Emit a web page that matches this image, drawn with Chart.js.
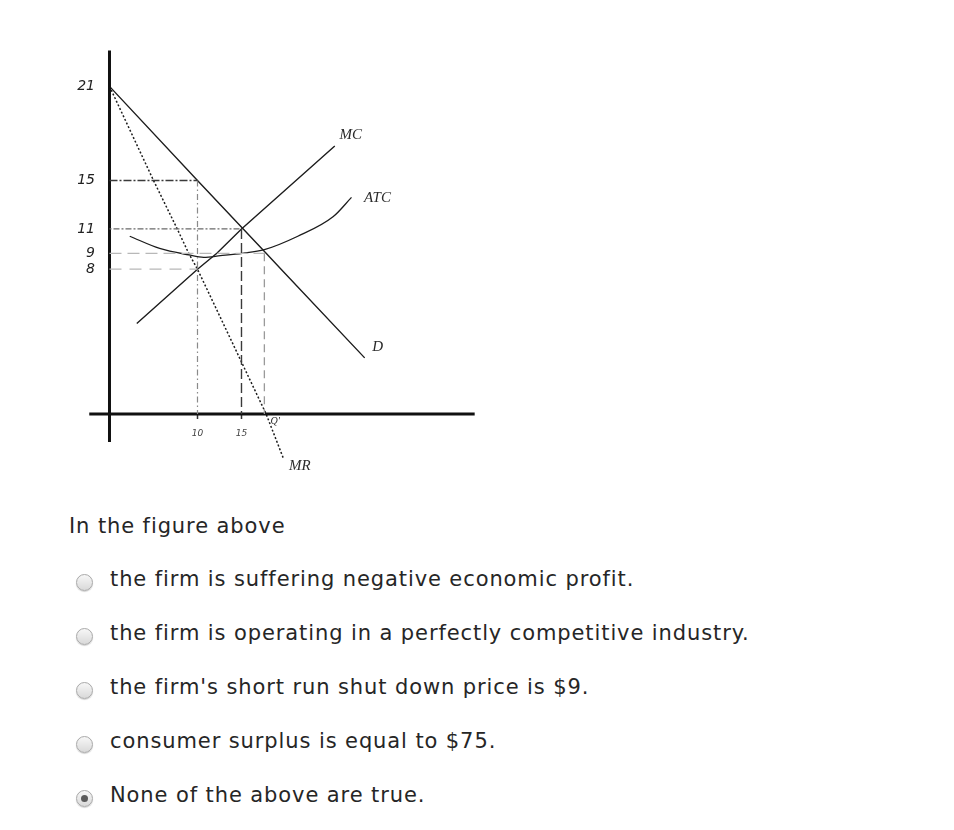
<!DOCTYPE html>
<html>
<head>
<meta charset="utf-8">
<script src="https://cdn.jsdelivr.net/npm/chart.js@4.4.0/dist/chart.umd.min.js"></script>
<style>
  body { margin: 0; background: #fff; width: 954px; height: 830px; position: relative; overflow: hidden; }
  #chart { position: absolute; left: 0; top: 0; }
  .line { position: absolute; margin: 0; font-family: "DejaVu Sans", sans-serif; font-size: 21px; letter-spacing: 0.9px; color: #262626; line-height: 24px; white-space: nowrap; }
  .radio { position: absolute; width: 15px; height: 15px; border-radius: 50%; border: 1px solid #a9a9a9;
    background: linear-gradient(#f7f7f7, #d9d9d9); box-shadow: 0 1px 1px rgba(0,0,0,0.18); }
  .radio.on::after { content: ""; position: absolute; left: 4px; top: 4px; width: 7px; height: 7px; border-radius: 50%; background: #5a5a5a; }
</style>
</head>
<body>
<canvas id="chart" width="520" height="490"></canvas>
<div id="question"></div>

<script>
// values (price on y, quantity on x)
const priceTicks = [8, 9, 11, 15, 21];
const qtyTicks = [10, 15];

const demandQ = [0, 10, 15.2, 17.8, 19.5, 29];
const demandP = [21, 15, 11, 9, 8, 3.1];

const mrQ = [0, 5, 7.7, 9, 10, 17.8, 19.8];
const mrP = [21, 15, 11, 9, 8, 0, -2.9];

const mcQ = [3.1, 10, 12.2, 15, 25.6];
const mcP = [5, 8, 9, 11, 17.2];

const atcQ = [2.3, 5.7, 9, 10.7, 12.6, 15.1, 17.6, 21.4, 25.4, 27.5];
const atcP = [10.4, 9.4, 8.9, 8.75, 8.85, 9, 9.3, 10.4, 12, 13.6];

// dashed guide lines: price level -> quantity where it stops
const guideP = [15, 11, 9, 8];
const guideQ = [10, 15, 17.6, 10];

// drawn extent of the two axes
const xAxisQ = [-2.3, 41.5];
const yAxisP = [-1.8, 23.3];

const question = "In the figure above";
const answers = [
  "the firm is suffering negative economic profit.",
  "the firm is operating in a perfectly competitive industry.",
  "the firm's short run shut down price is $9.",
  "consumer surplus is equal to $75.",
  "None of the above are true."
];
const picked = 4;

// the hand drawn price axis is not evenly spaced, so the y scale follows
// the sketch's own spacing between its labelled prices
const knotsVal = [0, 8, 9, 11, 15, 21];
const knotsPos = [0, 9.28, 10.3, 11.86, 14.97, 21];
const warp = (v) => {
  if (v <= knotsVal[0] || v >= knotsVal[knotsVal.length - 1]) return v;
  let i = 1;
  while (v > knotsVal[i]) i++;
  const t = (v - knotsVal[i - 1]) / (knotsVal[i] - knotsVal[i - 1]);
  return knotsPos[i - 1] + t * (knotsPos[i] - knotsPos[i - 1]);
};
const unwarp = (w) => {
  if (w <= knotsPos[0] || w >= knotsPos[knotsPos.length - 1]) return w;
  let i = 1;
  while (w > knotsPos[i]) i++;
  const t = (w - knotsPos[i - 1]) / (knotsPos[i] - knotsPos[i - 1]);
  return knotsVal[i - 1] + t * (knotsVal[i] - knotsVal[i - 1]);
};

class SketchScale extends Chart.LinearScale {
  getPixelForValue(value) {
    return super.getPixelForValue(value == null ? value : warp(value));
  }
  getValueForPixel(pixel) {
    return unwarp(super.getValueForPixel(pixel));
  }
}
SketchScale.id = "sketch";
SketchScale.defaults = Chart.LinearScale.defaults;
Chart.register(SketchScale);

const pts = (xs, ys) => xs.map((x, i) => ({ x, y: ys[i] }));

const line = (data, opts) => Object.assign({
  data,
  borderColor: "#1c1c1c",
  borderWidth: 1.4,
  pointRadius: 0,
  tension: 0,
  fill: false,
  clip: false
}, opts);

const guideStyles = [
  { h: { borderColor: "#3a3a3a", borderDash: [8, 2, 2, 2], borderWidth: 1.4 }, v: { borderColor: "#8a8a8a", borderDash: [6, 3, 1.5, 3], borderWidth: 1.2 } },
  { h: { borderColor: "#6a6a6a", borderDash: [2, 2, 6, 2], borderWidth: 1.2 }, v: { borderColor: "#3a3a3a", borderDash: [10, 4], borderWidth: 1.4 } },
  { h: { borderColor: "#b8b8b8", borderDash: [12, 6], borderWidth: 1.2 }, v: { borderColor: "#9a9a9a", borderDash: [8, 5], borderWidth: 1.3 } },
  { h: { borderColor: "#b8b8b8", borderDash: [12, 8], borderWidth: 1.2 }, v: null }
];

const datasets = [];
guideP.forEach((p, i) => {
  datasets.push(line([{ x: 0, y: p }, { x: guideQ[i], y: p }], guideStyles[i].h));
  if (guideStyles[i].v) {
    datasets.push(line([{ x: guideQ[i], y: p }, { x: guideQ[i], y: 0 }], guideStyles[i].v));
  }
});

datasets.push(line(xAxisQ.map((q) => ({ x: q, y: 0 })), { borderColor: "#111", borderWidth: 3 }));
datasets.push(line(yAxisP.map((p) => ({ x: 0, y: p })), { borderColor: "#111", borderWidth: 3 }));

const tagFont = "italic 15px 'Liberation Serif', serif";
datasets.push(line(pts(demandQ, demandP), {
  tags: [{ text: "D", dx: 13, dy: -11, font: tagFont }]
}));
datasets.push(line(pts(mcQ, mcP), {
  tags: [{ text: "MC", dx: 16, dy: -11, font: tagFont }]
}));
datasets.push(line(pts(atcQ, atcP), {
  cubicInterpolationMode: "monotone",
  borderWidth: 1.3,
  tags: [{ text: "ATC", dx: 26, dy: 1, font: tagFont }]
}));
datasets.push(line(pts(mrQ, mrP), {
  borderDash: [2, 2],
  borderWidth: 1.5,
  tags: [
    { text: "MR", dx: 16, dy: 7, font: tagFont },
    { text: "Q'", at: 5, dx: 9, dy: 7, font: "italic 10px 'Liberation Serif', serif" }
  ]
}));

const curveTags = {
  id: "curveTags",
  afterDatasetsDraw(chart) {
    const ctx = chart.ctx;
    ctx.save();
    ctx.fillStyle = "#2b2b2b";
    ctx.textAlign = "center";
    ctx.textBaseline = "middle";
    chart.data.datasets.forEach((ds, i) => {
      if (!ds.tags) return;
      const el = chart.getDatasetMeta(i).data;
      ds.tags.forEach((t) => {
        const p = el[t.at !== undefined ? t.at : el.length - 1];
        ctx.font = t.font;
        ctx.fillText(t.text, p.x + t.dx, p.y + t.dy);
      });
    });
    ctx.restore();
  }
};

new Chart(document.getElementById("chart"), {
  type: "line",
  data: { datasets },
  options: {
    responsive: false,
    animation: false,
    events: [],
    layout: { padding: { top: 50, left: 0, right: 0, bottom: 0 } },
    plugins: { legend: { display: false }, tooltip: { enabled: false } },
    scales: {
      x: {
        type: "linear",
        min: -1.42,
        max: 46.65,
        bounds: "data",
        afterBuildTicks: (s) => { s.ticks = qtyTicks.map((v) => ({ value: v })); },
        afterFit: (s) => { s.height = 76; },
        grid: { drawOnChartArea: false, drawTicks: true, tickLength: 5, tickColor: "#333", tickWidth: 1.5 },
        border: { display: false },
        ticks: {
          autoSkip: false,
          maxRotation: 0,
          padding: 9,
          color: "#444",
          font: { family: "DejaVu Sans", size: 9, style: "italic" },
          callback: (v) => v
        }
      },
      y: {
        type: "sketch",
        min: 0,
        max: 23.33,
        bounds: "data",
        afterBuildTicks: (s) => { s.ticks = priceTicks.map((v) => ({ value: v })); },
        afterFit: (s) => { s.width = 97; },
        grid: { display: false, drawTicks: false },
        border: { display: false },
        ticks: {
          autoSkip: false,
          padding: 2,
          color: "#222",
          font: { family: "DejaVu Sans", size: 14, style: "italic" },
          callback: (v) => v
        }
      }
    }
  },
  plugins: [curveTags]
});

// question text with its answer choices
const box = document.getElementById("question");
const stem = document.createElement("p");
stem.className = "line";
stem.textContent = question;
stem.style.left = "69px";
stem.style.top = (533.3 - 19.3) + "px";
box.appendChild(stem);

answers.forEach((a, i) => {
  const base = 586.7 + i * 54;
  const r = document.createElement("span");
  r.className = "radio" + (i === picked ? " on" : "");
  r.style.left = "76px";
  r.style.top = (base - 13) + "px";
  box.appendChild(r);
  const t = document.createElement("p");
  t.className = "line";
  t.textContent = a;
  t.style.left = "110px";
  t.style.top = (base - 19.3) + "px";
  box.appendChild(t);
});
</script>
</body>
</html>
